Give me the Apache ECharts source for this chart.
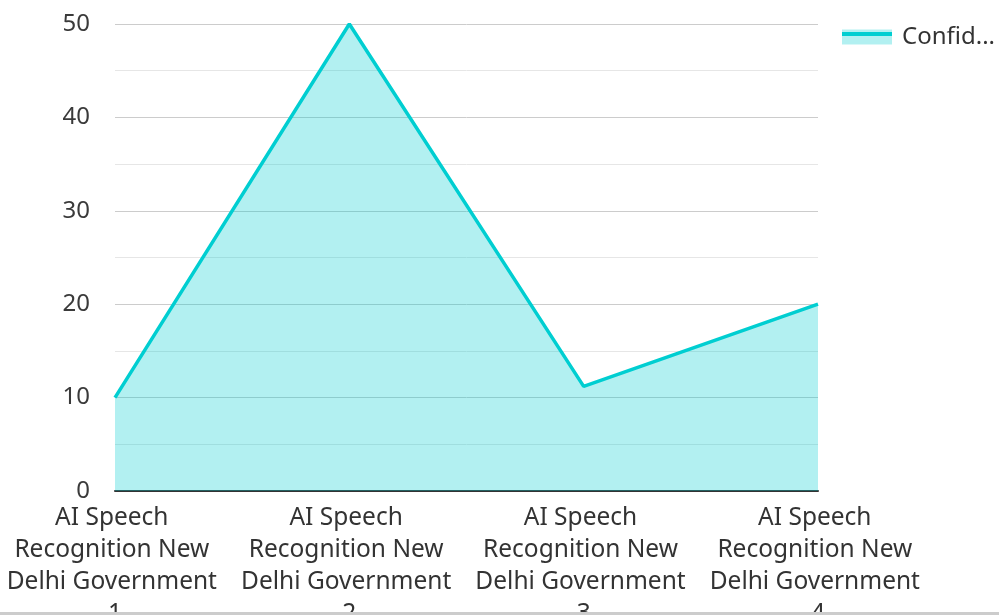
<!DOCTYPE html>
<html>
<head>
<meta charset="utf-8">
<script src="https://cdn.jsdelivr.net/npm/echarts@6/dist/echarts.min.js"></script>
<style>
html,body{margin:0;padding:0;background:#fff;}
#main{width:999px;height:615px;}
</style>
</head>
<body>
<div id="main"></div>
<script>
const categories = [
  "AI Speech Recognition New Delhi Government 1",
  "AI Speech Recognition New Delhi Government 2",
  "AI Speech Recognition New Delhi Government 3",
  "AI Speech Recognition New Delhi Government 4"
];
const seriesName = "Confidence Score";
const values = [10, 50, 11.2, 20];

const teal = '#00CED1';
const chart = echarts.init(document.getElementById('main'), null, {renderer: 'canvas'});
chart.setOption({
  animation: false,
  textStyle: {fontFamily: 'Noto Sans'},
  grid: {left: 115, right: 181, top: 24, bottom: 124, containLabel: false, outerBoundsMode: 'none'},
  legend: {
    left: 842, top: 25, padding: 0,
    itemWidth: 50, itemHeight: 15, itemGap: 10,
    data: [{name: seriesName, icon: 'rect', itemStyle: {color: 'rgba(0,206,209,0.3)'}}],
    textStyle: {fontSize: 24, color: '#333', fontFamily: 'Noto Sans', width: 100, overflow: 'truncate', ellipsis: '...', padding: [0, 0, 0, 5]}
  },
  xAxis: {
    type: 'category',
    data: categories,
    boundaryGap: false,
    axisLine: {lineStyle: {color: '#333', width: 2}},
    axisTick: {show: false},
    axisLabel: {
      interval: 0, fontSize: 24.5, color: '#333', fontFamily: 'Noto Sans',
      lineHeight: 32, margin: 11, width: 220, overflow: 'break'
    }
  },
  yAxis: {
    type: 'value', min: 0, max: 50, interval: 10,
    axisLine: {show: false},
    axisTick: {show: false},
    axisLabel: {fontSize: 24, color: '#3a3a3a', fontFamily: 'Noto Sans', margin: 25},
    splitLine: {lineStyle: {color: '#cccccc', width: 1}},
    minorTick: {show: false, splitNumber: 2},
    minorSplitLine: {show: true, lineStyle: {color: '#e6e6e6', width: 1}}
  },
  series: [{
    name: seriesName,
    type: 'line',
    data: values,
    showSymbol: false,
    symbol: 'none',
    lineStyle: {color: teal, width: 3.5},
    itemStyle: {color: teal},
    areaStyle: {color: teal, opacity: 0.3}
  }],
  graphic: [
    {type: 'rect', left: 842, top: 32, shape: {width: 50, height: 4}, style: {fill: teal}, z: 100},
    {type: 'rect', left: 0, bottom: 0, shape: {width: 999, height: 3}, style: {fill: '#cccccc'}, z: 100}
  ]
});
</script>
</body>
</html>
